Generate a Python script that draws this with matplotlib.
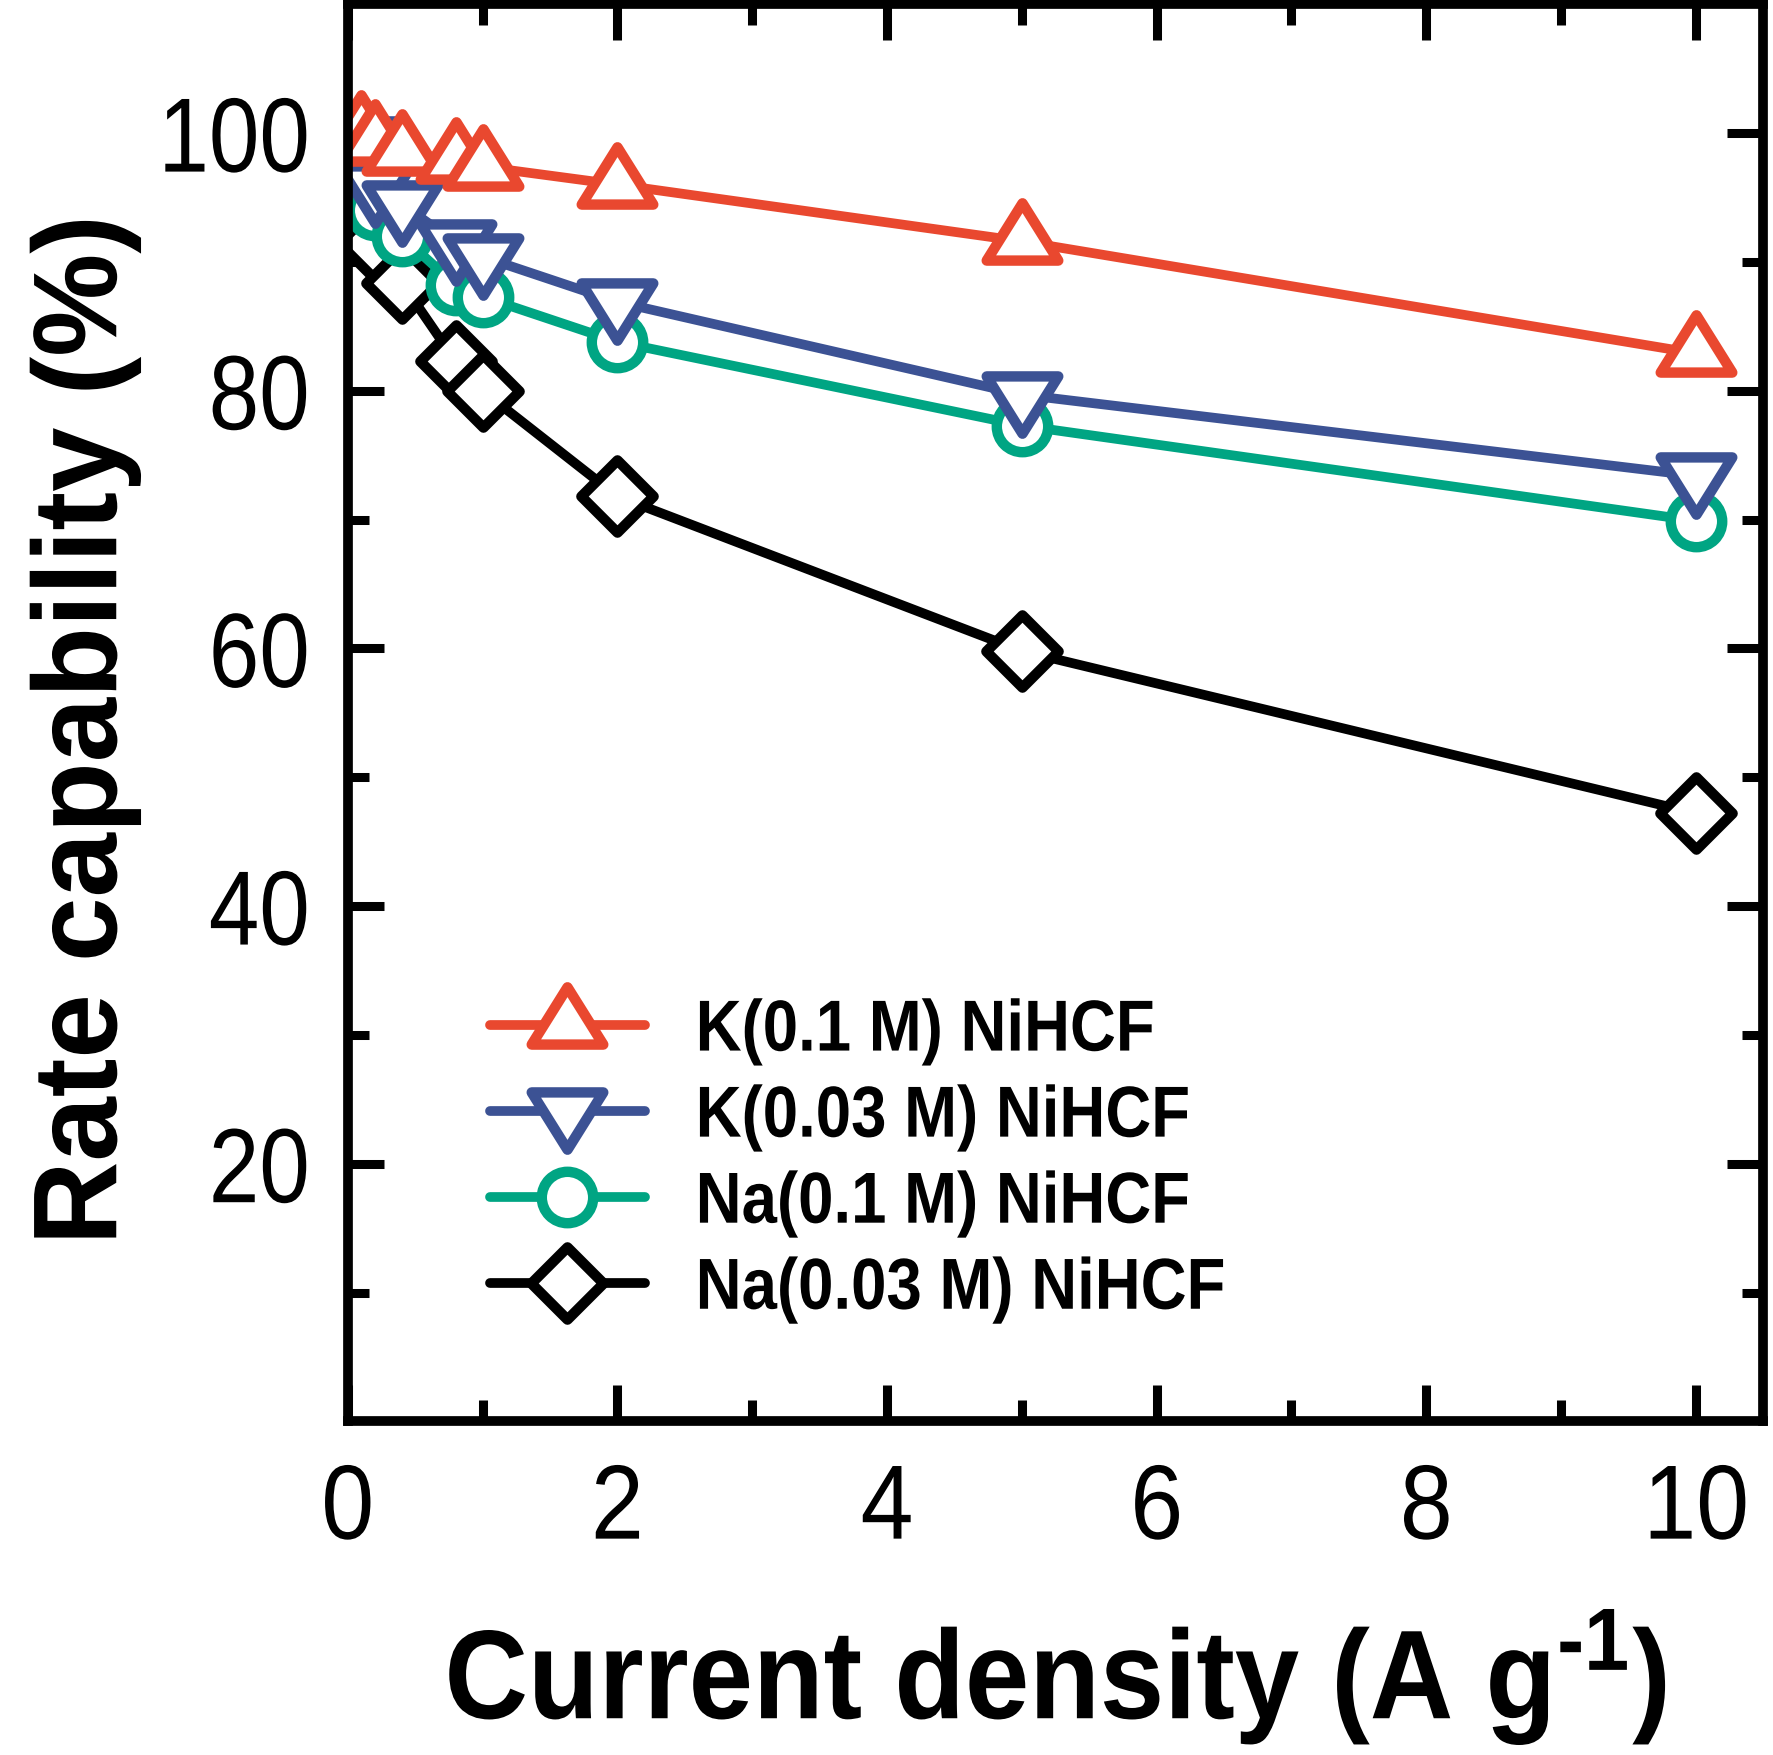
import matplotlib
matplotlib.use("Agg")
import numpy as np
import matplotlib.pyplot as plt
from matplotlib.path import Path
from matplotlib.markers import MarkerStyle
from matplotlib.ticker import MultipleLocator, FixedLocator
from matplotlib.patheffects import AbstractPathEffect
from matplotlib.transforms import Affine2D

# ---- data ----
current_density = [0.1, 0.2, 0.4, 0.8, 1, 2, 5, 10]
k_01 = [100.0, 99.3, 98.5, 97.9, 97.4, 96.0, 91.6, 82.9]
k_003 = [99.5, 96.0, 94.5, 91.5, 90.4, 86.9, 79.7, 73.4]
na_01 = [95.5, 94.0, 92.0, 88.2, 87.3, 83.8, 77.3, 69.9]
na_003 = [94.5, 91.5, 88.4, 82.3, 80.0, 71.8, 59.8, 47.2]
labels = ["K(0.1 M) NiHCF", "K(0.03 M) NiHCF", "Na(0.1 M) NiHCF", "Na(0.03 M) NiHCF"]
colors = ["#E9482F", "#3C5294", "#00A583", "#000000"]
x_ticks = [0, 2, 4, 6, 8, 10]
y_ticks = [20, 40, 60, 80, 100]

FONT = "Liberation Sans"


class Condense(AbstractPathEffect):
    """Horizontally compress text (emulates a narrow typeface)."""

    def __init__(self, sx, anchor="center"):
        super().__init__()
        self.sx = sx
        self.anchor = anchor

    def draw_path(self, renderer, gc, tpath, affine, rgbFace=None):
        v = tpath.vertices
        if tpath.codes is not None:
            v = v[tpath.codes != Path.CLOSEPOLY]
        if len(v) == 0:
            renderer.draw_path(gc, tpath, affine, rgbFace)
            return
        if self.anchor == "left":
            cx = 0.0
        elif self.anchor == "right":
            cx = v[:, 0].max()
        else:
            cx = 0.5 * (v[:, 0].min() + v[:, 0].max())
        t = Affine2D().translate(-cx, 0).scale(self.sx, 1).translate(cx, 0) + affine
        renderer.draw_path(gc, tpath, t, rgbFace)


# custom markers centred on centroid
up = Path([(0, 1.067), (-1, -0.533), (1, -0.533), (0, 1.067)], closed=True)
down = Path([(0, -1.067), (-1, 0.533), (1, 0.533), (0, -1.067)], closed=True)
diamond = Path([(0, 1), (1, 0), (0, -1), (-1, 0), (0, 1)], closed=True)
markers = [MarkerStyle(up, joinstyle="miter"), MarkerStyle(down, joinstyle="miter"),
           MarkerStyle("o"), MarkerStyle(diamond, joinstyle="miter")]
msizes = [55, 55, 37, 52]
zorders = [2.3, 2.2, 2.1, 2.0]

fig = plt.figure(figsize=(17.74, 17.56), dpi=100)
ax = fig.add_axes([0.196, 0.190, 0.798, 0.807])

series = [k_01, k_003, na_01, na_003]
handles = []
for ys, lab, c, m, ms, z in zip(series, labels, colors, markers, msizes, zorders):
    h, = ax.plot(current_density, ys, color=c, lw=7, marker=m, ms=ms,
                 mfc="white", mec=c, mew=7.5, label=lab, zorder=z,
                 solid_joinstyle="round", solid_capstyle="round")
    handles.append(h)

ax.set_xlim(0, 10.5)
ax.set_ylim(0, 110)
ax.xaxis.set_major_locator(FixedLocator(x_ticks))
ax.xaxis.set_minor_locator(MultipleLocator(1))
ax.yaxis.set_major_locator(FixedLocator(y_ticks))
ax.yaxis.set_minor_locator(FixedLocator([10, 30, 50, 70, 90]))
ax.set_xticklabels([str(t) for t in x_ticks])
ax.set_yticklabels([str(t) for t in y_ticks])

for s in ax.spines.values():
    s.set_linewidth(7)
    s.set_zorder(3)
ax.tick_params(which="both", direction="in", top=True, right=True, width=6.5)
ax.tick_params(which="major", length=26)
ax.tick_params(which="minor", length=15)
ax.tick_params(axis="x", which="major", pad=29)
ax.tick_params(axis="y", which="major", pad=27)
for lab in ax.get_xticklabels():
    lab.set_fontfamily(FONT)
    lab.set_fontsize(76)
    lab.set_path_effects([Condense(0.9, "center")])
for lab in ax.get_yticklabels():
    lab.set_fontfamily(FONT)
    lab.set_fontsize(76)
    lab.set_path_effects([Condense(0.86, "right")])

ax.set_xlabel("Current density (A g$^{\\mathregular{\u20101}}$)", fontsize=91,
              fontweight="bold", family=FONT)
ax.xaxis.label.set_va("baseline")
ax.xaxis.set_label_coords(0.5, -0.210)
ax.xaxis.label.set_path_effects([Condense(0.915, "center")])

ax.set_ylabel("Rate capability (%)", fontsize=86, fontweight="bold", family=FONT)
ax.yaxis.label.set_va("baseline")
ax.yaxis.set_label_coords(-0.1635, 0.488)
ax.yaxis.label.set_path_effects([Condense(0.97, "center")])

leg = ax.legend(handles=handles, loc="lower left", bbox_to_anchor=(0.08, 0.0485),
                frameon=False, prop={"family": FONT, "weight": "bold", "size": 52},
                handlelength=2.15, handletextpad=0.7, labelspacing=0.25,
                borderaxespad=0)
for t in leg.get_texts():
    t.set_path_effects([Condense(0.88, "left")])

fig.savefig("out.png", dpi=100)
